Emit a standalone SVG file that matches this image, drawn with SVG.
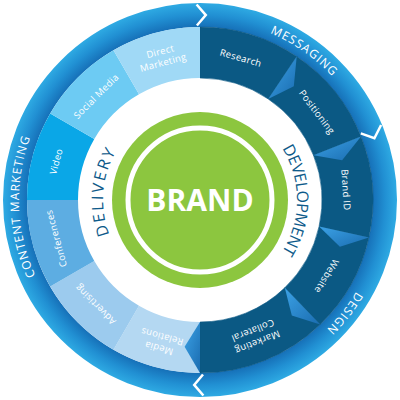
<svg xmlns="http://www.w3.org/2000/svg" width="400" height="400" viewBox="0 0 400 400">
<defs>
<radialGradient id="bandGrad" gradientUnits="userSpaceOnUse" cx="200" cy="200" r="197">
<stop offset="0.878" stop-color="#1670b8"/>
<stop offset="0.94" stop-color="#2190d3"/>
<stop offset="1" stop-color="#2eaae3"/>
</radialGradient>
<linearGradient id="triGrad" x1="0" y1="0" x2="1" y2="1">
<stop offset="0" stop-color="#3ca2e6"/>
<stop offset="1" stop-color="#1a6cb0"/>
</linearGradient>
<path id="outerPath" d="M 200 19 A 181 181 0 0 1 200 381 A 181 181 0 0 1 200 19"/>
<path id="innerPath" d="M 200 103 A 97 97 0 0 1 200 297 A 97 97 0 0 1 200 103"/>
</defs>
<style>
.dark{fill:#0b5984;stroke:#0b5984;stroke-width:0.6}
.lbl{font-family:"Open Sans","Noto Sans",sans-serif;font-size:9.5px;fill:#ffffff;text-anchor:middle;letter-spacing:0.3px}
.band{font-family:"Open Sans","Noto Sans",sans-serif;font-size:12px;fill:#ffffff;text-anchor:middle;letter-spacing:1px}
.ring{font-family:"Open Sans","Noto Sans",sans-serif;font-size:16px;fill:#0d5a8a;text-anchor:middle}
.tri{fill:url(#triGrad)}
.chev{fill:none;stroke:#ffffff;stroke-width:2.5;stroke-linejoin:miter}
</style>

<g id="outer-band">
<circle cx="200" cy="200" r="185" fill="none" stroke="url(#bandGrad)" stroke-width="24"/>
</g>
<g id="messaging"><text class="band"><textPath href="#outerPath" startOffset="9.72%">MESSAGING</textPath></text></g>
<g id="design"><text class="band"><textPath href="#outerPath" startOffset="35.6%">DESIGN</textPath></text></g>
<g id="content-marketing"><text class="band"><textPath href="#outerPath" startOffset="74.4%">CONTENT MARKETING</textPath></text></g>

<g id="research">
<path class="dark" d="M 200 27 A 173 173 0 0 1 296.7 56.6 L 268.2 98.9 A 122 122 0 0 0 200 78 Z"/>
<text class="lbl" transform="rotate(16 200 200)" x="200" y="55.5">Research</text>
</g>
<g id="positioning">
<path class="dark" d="M 296.7 56.6 A 173 173 0 0 1 361 136.6 L 313.5 155.3 A 122 122 0 0 0 268.2 98.9 Z"/>
<text class="lbl" transform="rotate(53 200 200)" x="200" y="57">Positioning</text>
</g>
<g id="brand-id">
<path class="dark" d="M 361 136.6 A 173 173 0 0 1 368.9 237.4 L 319.1 226.4 A 122 122 0 0 0 313.5 155.3 Z"/>
<text class="lbl" transform="rotate(86 200 200)" x="200" y="57">Brand ID</text>
</g>
<g id="website">
<path class="dark" d="M 368.9 237.4 A 173 173 0 0 1 320.2 324.4 L 284.8 287.8 A 122 122 0 0 0 319.1 226.4 Z"/>
<text class="lbl" transform="rotate(121 200 200)" x="200" y="55.5">Website</text>
</g>
<g id="marketing-collateral">
<path class="dark" d="M 320.2 324.4 A 173 173 0 0 1 200 373 L 200 322 A 122 122 0 0 0 284.8 287.8 Z"/>
<text class="lbl" transform="rotate(158 200 200)" x="200" y="50">Marketing</text>
<text class="lbl" transform="rotate(158 200 200)" x="200" y="62.5">Collateral</text>
</g>

<g id="media-relations">
<path fill="#b4d8f2" d="M 200 373 A 173 173 0 0 1 113.5 349.8 L 139 305.7 A 122 122 0 0 0 200 322 Z"/>
<text class="lbl" transform="rotate(195.5 200 200)" x="200" y="49.5">Media</text>
<text class="lbl" transform="rotate(195.5 200 200)" x="200" y="61.5">Relations</text>
</g>
<g id="advertising">
<path fill="#9ccbee" d="M 113.5 349.8 A 173 173 0 0 1 50.2 286.5 L 94.3 261 A 122 122 0 0 0 139 305.7 Z"/>
<text class="lbl" transform="rotate(225 200 200)" x="200" y="55.5">Advertising</text>
</g>
<g id="conferences">
<path fill="#5dade2" d="M 50.2 286.5 A 173 173 0 0 1 27 200 L 78 200 A 122 122 0 0 0 94.3 261 Z"/>
<text class="lbl" transform="rotate(255 200 200)" x="200" y="54.5">Conferences</text>
</g>
<g id="video">
<path fill="#0aa7e7" d="M 27 200 A 173 173 0 0 1 50.2 113.5 L 94.3 139 A 122 122 0 0 0 78 200 Z"/>
<text class="lbl" transform="rotate(285 200 200)" x="200" y="54.5">Video</text>
</g>
<g id="social-media">
<path fill="#6dcbf3" d="M 50.2 113.5 A 173 173 0 0 1 113.5 50.2 L 139 94.3 A 122 122 0 0 0 94.3 139 Z"/>
<text class="lbl" transform="rotate(315 200 200)" x="200" y="56.5">Social Media</text>
</g>
<g id="direct-marketing">
<path fill="#a0d9f6" d="M 113.5 50.2 A 173 173 0 0 1 200 27 L 200 78 A 122 122 0 0 0 139 94.3 Z"/>
<text class="lbl" transform="rotate(345 200 200)" x="200" y="49.5">Direct</text>
<text class="lbl" transform="rotate(345 200 200)" x="200" y="61">Marketing</text>
</g>

<g id="connectors">
<polygon class="tri" points="296.7,56.6 293.8,86.2 268.2,98.9"/>
<polygon class="tri" points="361,136.6 342.1,160.3 313.5,155.3"/>
<polygon class="tri" points="368.9,237.4 339.9,246.8 319.1,226.4"/>
<polygon class="tri" points="320.2,324.4 291.8,315.4 284.8,287.8"/>
<polygon class="tri" points="200,373 184.6,346.7 200,322"/>
<polyline class="chev" points="196.6,4.5 205.8,15.1 196.9,25.5"/>
<polyline class="chev" points="381.1,125 374.4,138.2 360.8,133.4"/>
<polyline class="chev" points="203,374.5 194.2,384.9 203.4,395.5"/>
</g>

<g id="delivery"><text class="ring" style="letter-spacing:2.2px"><textPath href="#innerPath" startOffset="76.4%">DELIVERY</textPath></text></g>
<g id="development"><text class="ring" style="letter-spacing:-0.4px"><textPath href="#innerPath" startOffset="25%">DEVELOPMENT</textPath></text></g>

<g id="brand">
<circle cx="200" cy="200" r="88" fill="#8cc63f"/>
<circle cx="200" cy="200" r="72" fill="none" stroke="#ffffff" stroke-width="5"/>
<text x="200" y="211" font-family="'Open Sans','Noto Sans',sans-serif" font-weight="bold" font-size="30" fill="#ffffff" text-anchor="middle">BRAND</text>
</g>
</svg>
